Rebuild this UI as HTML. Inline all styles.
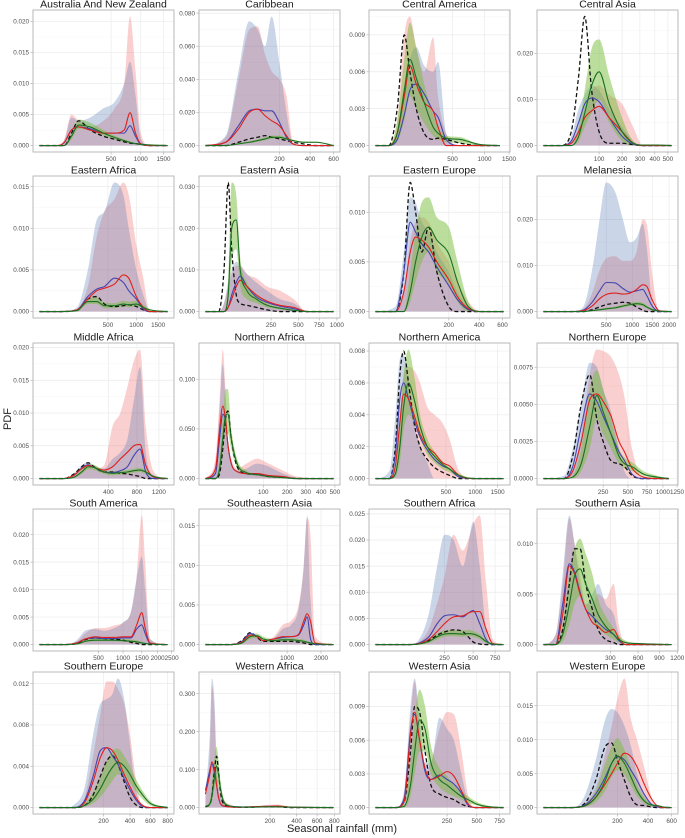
<!DOCTYPE html>
<html><head><meta charset="utf-8">
<style>
html,body{margin:0;padding:0;background:#fff;}
svg{display:block;font-family:"Liberation Sans",sans-serif;}
</style></head>
<body>
<svg id="chart" width="685" height="838" viewBox="0 0 685 838" xmlns="http://www.w3.org/2000/svg">
<text x="0" y="0" transform="translate(11,419) rotate(-90)" text-anchor="middle" font-size="11" fill="#222">PDF</text>
<text x="342" y="832" text-anchor="middle" font-size="11" fill="#222">Seasonal rainfall (mm)</text>
</svg>
<script>
const titles = ["Australia And New Zealand","Caribbean","Central America","Central Asia","Eastern Africa","Eastern Asia","Eastern Europe","Melanesia","Middle Africa","Northern Africa","Northern America","Northern Europe","South America","Southeastern Asia","Southern Africa","Southern Asia","Southern Europe","Western Africa","Western Asia","Western Europe"];
const xMax = [1600,600,1380,530,1750,950,610,2080,1380,490,1650,1150,2350,2460,860,1100,800,790,800,600];
const xTicks = [[500,1000,1500],[200,400,600],[500,1000,1500],[100,200,300,400,500],[500,1000,1500],[250,500,750,1000],[200,400,600],[500,1000,1500,2000],[400,800,1200],[100,200,300,400,500],[500,1000,1500],[250,500,750,1000,1250],[500,1000,1500,2000,2500],[1000,2000],[250,500,750],[300,600,900,1200],[200,400,600,800],[200,400,600,800],[250,500,750],[200,400,600]];
const yTicks = [[0,.005,.01,.015,.02],[0,.02,.04,.06,.08],[0,.003,.006,.009],[0,.01,.02],[0,.005,.01,.015],[0,.01,.02,.03],[0,.005,.01],[0,.01,.02],[0,.005,.01,.015,.02],[0,.05,.1],[0,.002,.004,.006,.008],[0,.0025,.005,.0075],[0,.005,.01,.015,.02],[0,.005,.01,.015],[0,.005,.01,.015,.02,.025],[0,.005,.01],[0,.004,.008,.012],[0,.1,.2,.3],[0,.003,.006,.009],[0,.005,.01,.015]];
const yTickLabels = [["0.000","0.005","0.010","0.015","0.020"],["0.000","0.020","0.040","0.060","0.080"],["0.000","0.003","0.006","0.009"],["0.000","0.010","0.020"],["0.000","0.005","0.010","0.015"],["0.000","0.010","0.020","0.030"],["0.000","0.005","0.010"],["0.000","0.010","0.020"],["0.000","0.005","0.010","0.015","0.020"],["0.000","0.050","0.100"],["0.000","0.002","0.004","0.006","0.008"],["0.0000","0.0025","0.0050","0.0075"],["0.000","0.005","0.010","0.015","0.020"],["0.000","0.005","0.010","0.015"],["0.000","0.005","0.010","0.015","0.020","0.025"],["0.000","0.005","0.010"],["0.000","0.004","0.008","0.012"],["0.000","0.100","0.200","0.300"],["0.000","0.003","0.006","0.009"],["0.000","0.005","0.010","0.015"]];
const xs = [
[0,30,60,100,150,250,400,550,700,800,900,1000,1200,1600],
[0,15,40,70,100,130,160,200,240,280,350,450,600],
[0,15,40,70,100,140,200,280,330,420,600,900,1300],
[0,10,25,40,55,75,100,140,200,260,320,420,530],
[0,50,150,250,350,450,600,750,850,1000,1150,1300,1750],
[0,10,20,30,40,55,70,100,150,220,320,450,600,950],
[0,15,30,45,60,80,105,140,200,250,320,420,610],
[0,100,200,300,400,500,650,800,950,1100,1250,1350,1500,1700,2080],
[0,50,100,150,200,250,350,450,550,650,750,850,950,1100,1380],
[0,3,6,9,12,15,20,30,50,80,120,180,250,490],
[0,20,40,60,80,110,150,200,270,350,450,550,700,1000,1650],
[0,30,60,100,150,200,250,320,400,460,550,700,900,1100],
[0,100,200,300,450,600,800,1000,1200,1350,1500,1600,1750,2350],
[0,100,200,300,400,500,700,900,1100,1300,1450,1550,1650,1800,2460],
[0,30,60,100,150,200,250,320,400,450,500,570,640,720,860],
[0,10,25,45,65,90,120,160,200,260,330,380,450,600,1100],
[0,30,60,100,140,180,220,260,300,350,400,450,520,600,800],
[0,1,2,4,6,8,11,15,25,50,100,180,250,350,790],
[0,20,40,60,75,95,120,150,200,250,300,360,420,500,600,800],
[0,30,60,100,140,170,200,240,280,320,370,420,470,520,600]];
const pinkBand = [
[0,0,.001,.005,.004,.003,.004,.006,.01,.0208,.012,.002,0,0],
[0,.005,.04,.07,.072,.055,.045,.04,.03,.002,0,0,0],
[0,0,.002,.009,.0105,.008,.006,.0088,.004,.001,0,0,0],
[0,0,.001,.004,.008,.012,.013,.011,.009,.004,0,0,0],
[0,0,.0003,.003,.009,.012,.0135,.0155,.014,.008,.004,0,0],
[0,0,.002,.006,.009,.011,.011,.009,.008,.006,.005,.003,0,0],
[0,0,.002,.007,.009,.0095,.009,.007,.005,.003,.001,0,0],
[0,0,.0005,.004,.009,.0115,.012,.011,.011,.013,.02,.019,.008,0,0],
[0,0,.0005,.0015,.002,.0015,.002,.008,.01,.014,.018,.0197,.008,.001,0],
[0,.02,.08,.13,.09,.04,.02,.01,.015,.02,.015,.008,.002,0],
[0,0,.001,.004,.0065,.007,.0068,.006,.0045,.004,.0035,.0025,.0005,0,0],
[0,0,.0005,.003,.007,.0087,.0086,.0082,.007,.0055,.002,0,0,0],
[0,0,.0005,.002,.003,.003,.0035,.004,.006,.012,.0235,.015,.001,0],
[0,0,.0003,.0013,.001,.0005,.001,.0025,.003,.005,.01,.016,.014,.001,0],
[0,0,0,.0005,.003,.008,.013,.021,.018,.02,.023,.0247,.012,.001,0],
[0,.001,.006,.0125,.01,.007,.004,.004,.005,.0045,.006,.002,0,0,0],
[0,0,0,.001,.005,.009,.0122,.0122,.0115,.01,.007,.003,0,0,0],
[.02,.15,.32,.25,.1,.06,.03,.02,.01,.003,.003,.007,.008,.002,0],
[0,0,.001,.008,.0112,.007,.003,.004,.007,.0085,.0083,.005,.001,0,0,0],
[0,0,.0005,.003,.008,.012,.016,.019,.013,.01,.006,.002,0,0,0]];
const blueBand = [
[0,0,.0008,.0045,.004,.0045,.006,.007,.01,.0135,.008,.001,0,0],
[0,.006,.045,.075,.07,.06,.078,.05,.02,.001,0,0,0],
[0,0,.001,.004,.007,.008,.0065,.006,.0068,.001,0,0,0],
[0,0,.002,.008,.011,.013,.012,.008,.004,.001,0,0,0],
[0,0,.0005,.005,.011,.012,.0155,.014,.01,.005,.002,0,0],
[0,0,.002,.007,.01,.012,.011,.009,.007,.005,.003,.002,0,0],
[0,.0005,.006,.0115,.011,.009,.008,.006,.004,.002,.0005,0,0],
[0,0,.001,.009,.02,.028,.026,.02,.015,.016,.019,.014,.002,0,0],
[0,0,.0008,.002,.0025,.002,.0015,.003,.004,.006,.012,.017,.004,.0005,0],
[0,.01,.07,.115,.08,.04,.015,.008,.01,.015,.012,.005,.001,0],
[0,.0005,.004,.0075,.0078,.006,.0035,.002,.001,0,0,0,0,0,0],
[0,.0002,.002,.005,.0078,.0075,.006,.0045,.002,.0005,0,0,0,0],
[0,0,.0008,.0025,.0028,.0025,.003,.004,.006,.012,.016,.01,.001,0],
[0,0,.0004,.0015,.0012,.0005,.0008,.002,.0025,.0045,.01,.0163,.006,0,0],
[0,0,0,.001,.006,.015,.021,.02,.015,.019,.0235,.015,.003,0,0],
[0,.001,.007,.0128,.01,.006,.004,.005,.006,.004,.003,.001,0,0,0],
[0,0,.0003,.002,.007,.01,.0105,.011,.0125,.0105,.006,.002,0,0,0],
[.03,.2,.34,.28,.12,.06,.03,.015,.008,.003,.002,.005,.006,.001,0],
[0,0,.0015,.009,.0115,.008,.004,.004,.008,.007,.006,.003,.0005,0,0,0],
[0,0,.0015,.007,.013,.0145,.014,.012,.009,.005,.002,.0005,0,0,0]];
const redLine = [
[0,0,.0005,.0025,.003,.0025,.002,.002,.0025,.0053,.002,.0003,0,0],
[0,.002,.01,.02,.022,.018,.015,.012,.006,.001,0,0,0],
[0,0,.001,.004,.0065,.005,.0035,.0028,.0015,0,0,0,0],
[0,0,.0005,.003,.006,.0075,.0085,.006,.003,.0005,0,0,0],
[0,0,.0002,.0015,.0025,.0028,.0033,.0044,.004,.0018,.0005,0,0],
[0,0,0,.001,.003,.006,.0075,.006,.004,.0025,.0015,.001,0,0],
[0,0,.002,.006,.0075,.0072,.0065,.005,.0032,.0015,.0003,0,0],
[0,0,.0002,.0012,.0028,.0037,.004,.0038,.004,.0048,.0058,.0055,.0025,.0002,0],
[0,0,.0005,.0015,.002,.0017,.0013,.0018,.003,.004,.005,.0052,.002,.0002,0],
[0,.01,.05,.073,.06,.035,.015,.007,.005,.005,.003,.002,0,0],
[0,0,.0008,.0035,.0053,.005,.004,.0028,.002,.0016,.001,.0008,.0002,0,0],
[0,0,.0005,.0025,.0053,.0057,.0052,.0042,.0025,.0018,.0007,.0001,0,0],
[0,0,.0003,.001,.0014,.0013,.0013,.0014,.0014,.0035,.0058,.003,.0003,0],
[0,0,.0003,.0012,.001,.0005,.0007,.001,.001,.0013,.003,.0039,.003,.0002,0],
[0,0,0,.0002,.001,.0025,.004,.0053,.0055,.006,.0063,.0063,.003,.0002,0],
[0,0,.003,.0078,.007,.005,.0035,.0022,.0018,.0012,.0015,.0006,0,0,0],
[0,0,0,.0005,.0025,.0048,.0058,.0055,.0046,.0032,.002,.001,.0002,0,0],
[.035,.09,.12,.1,.06,.03,.01,.005,.002,.001,.002,.003,.004,.001,0],
[0,0,.0005,.0065,.0085,.006,.0035,.0025,.0028,.0032,.0028,.0015,.0003,0,0,0],
[0,0,.0002,.0015,.0035,.005,.0065,.008,.0075,.006,.0035,.0015,.0003,0,0]];
const blueLine = [
[0,0,.0005,.0025,.003,.0027,.002,.002,.002,.0032,.0015,.0002,0,0],
[0,.002,.012,.021,.022,.021,.021,.014,.005,.001,0,0,0],
[0,0,.0005,.0025,.0045,.005,.0042,.0028,.0023,.0005,0,0,0],
[0,0,.001,.005,.009,.0103,.0095,.006,.002,.0003,0,0,0],
[0,0,.0002,.0018,.0027,.003,.004,.0035,.0025,.0015,.0003,0,0],
[0,0,0,.001,.004,.007,.0085,.006,.0035,.0022,.0013,.0007,0,0],
[0,0,.004,.009,.008,.0068,.006,.0045,.0026,.0012,.0002,0,0],
[0,0,.0003,.002,.0045,.0063,.0062,.005,.0042,.0045,.0048,.0035,.0012,0,0],
[0,0,.0005,.0016,.0021,.0017,.001,.0009,.0012,.0018,.0035,.0045,.001,0,0],
[0,.005,.04,.065,.058,.035,.015,.007,.005,.004,.003,.001,0,0],
[0,0,.0015,.005,.006,.005,.0037,.0026,.0018,.0012,.0008,.0006,.0001,0,0],
[0,0,.0008,.0035,.0057,.0052,.0042,.003,.0018,.0012,.0003,0,0,0],
[0,0,.0003,.001,.0012,.0011,.0011,.0012,.0012,.0028,.0036,.002,.0002,0],
[0,0,.0004,.0014,.001,.0005,.0007,.0009,.001,.0012,.0025,.0035,.0008,0,0],
[0,0,0,.0003,.0015,.004,.0055,.0057,.0053,.006,.0065,.004,.001,0,0],
[0,0,.004,.008,.0072,.0052,.0035,.0028,.0022,.0015,.001,.0004,0,0,0],
[0,0,0,.0007,.003,.0055,.0058,.005,.0042,.0028,.0017,.0008,.0001,0,0],
[.045,.1,.115,.09,.06,.03,.01,.004,.002,.001,.002,.003,.003,.001,0],
[0,0,.0008,.0068,.0083,.006,.0032,.0025,.0029,.0025,.0021,.0013,.0002,0,0,0],
[0,0,.0003,.002,.0045,.0065,.0075,.007,.0055,.004,.002,.0006,.0001,0,0]];
const greenLine = [
[0,0,0,.0015,.0033,.003,.002,.0013,.0008,.0005,.0003,.0002,.0001,0],
[0,0,.001,.002,.003,.004,.005,.005,.004,.003,.002,.002,0],
[0,0,.001,.0045,.007,.0055,.0035,.0015,.001,.0006,.0005,.0001,0],
[0,0,0,.002,.007,.013,.016,.009,.003,.0005,.0001,.0001,0],
[0,0,.0001,.0012,.0012,.0007,.0007,.0009,.0008,.0009,.0005,.0002,0],
[0,0,0,.004,.02,.022,.01,.005,.003,.0015,.0008,.0003,0,0],
[0,0,0,.002,.005,.0075,.0085,.0072,.0058,.003,.0005,0,0],
[0,0,0,.0002,.0004,.0006,.0008,.0012,.0015,.0017,.0015,.001,.0004,.0001,0],
[0,0,.0002,.001,.0018,.0017,.001,.0008,.0009,.001,.0012,.0013,.001,.0003,0],
[0,0,.01,.04,.063,.065,.04,.015,.006,.004,.002,.001,0,0],
[0,0,.0003,.002,.0045,.006,.005,.0033,.002,.0014,.0009,.0006,.0002,0,0],
[0,0,.0001,.001,.0035,.0056,.0045,.003,.0015,.001,.0008,.0003,.0001,0],
[0,0,.0001,.0006,.0008,.0008,.0008,.0007,.0006,.0005,.0003,.0002,.0001,0],
[0,0,.0002,.001,.0011,.0007,.0005,.0006,.0006,.0005,.0004,.0003,.0002,.0001,0],
[0,0,0,.0001,.0006,.0015,.002,.0021,.002,.0021,.002,.0015,.0006,.0001,0],
[0,0,.001,.004,.0068,.0075,.006,.0045,.003,.0018,.001,.0005,.0002,.0001,0],
[0,0,0,.0002,.0008,.0018,.003,.0039,.0044,.004,.0032,.0022,.0012,.0004,0],
[.003,.01,.03,.08,.11,.09,.05,.02,.005,.002,.001,.002,.002,.001,0],
[0,0,.0001,.002,.005,.0078,.007,.004,.0025,.002,.0015,.001,.0007,.0003,.0001,0],
[0,0,.0002,.0015,.004,.0065,.0076,.0065,.0045,.0025,.001,.0004,.0003,.0001,0]];
const greenHi = [
[0,0,0,.002,.0042,.0037,.0025,.0016,.001,.0007,.0004,.0003,.0001,0],
[0,0,.0015,.0026,.0038,.005,.006,.006,.005,.0036,.0025,.0024,0],
[0,0,.002,.007,.01,.008,.005,.0025,.0015,.0008,.0007,.0001,0],
[0,0,0,.004,.012,.021,.023,.015,.006,.001,.0002,.0002,0],
[0,0,.0002,.0016,.0017,.0011,.001,.0013,.0012,.0013,.0008,.0003,0],
[0,0,0,.008,.031,.028,.013,.007,.004,.002,.001,.0005,0,0],
[0,0,0,.004,.008,.011,.0115,.0095,.0085,.005,.001,0,0],
[0,0,0,.0003,.0006,.0008,.0011,.0015,.0019,.0021,.0019,.0013,.0006,.0001,0],
[0,0,.0003,.0013,.0022,.0021,.0013,.0011,.0012,.0013,.0015,.0016,.0013,.0004,0],
[0,0,.02,.06,.09,.09,.05,.02,.008,.005,.003,.001,0,0],
[0,0,.0005,.0035,.0065,.0081,.0065,.004,.0025,.0017,.0011,.0007,.0003,0,0],
[0,0,.0002,.002,.006,.0073,.006,.004,.002,.0014,.0011,.0005,.0002,0],
[0,0,.0002,.0009,.0011,.0011,.0011,.001,.0009,.0008,.0005,.0003,.0001,0],
[0,0,.0003,.0013,.0014,.001,.0007,.0008,.0008,.0007,.0006,.0004,.0003,.0001,0],
[0,0,0,.0002,.001,.0021,.0027,.0028,.0027,.0028,.0026,.002,.0009,.0002,0],
[0,0,.002,.007,.0095,.0105,.009,.007,.0045,.0028,.0016,.0009,.0004,.0001,0],
[0,0,0,.0004,.0015,.003,.0045,.0055,.0057,.005,.004,.0028,.0016,.0006,0],
[.005,.02,.06,.13,.16,.13,.07,.03,.008,.003,.002,.003,.003,.001,0],
[0,0,.0002,.004,.008,.0105,.009,.0055,.0035,.0028,.002,.0014,.001,.0005,.0002,0],
[0,0,.0003,.0025,.0065,.009,.0102,.0085,.0058,.0033,.0015,.0006,.0004,.0001,0]];
const greenLo = [
[0,0,0,.001,.0027,.0024,.0016,.001,.0006,.0003,.0002,.0001,0,0],
[0,0,.0006,.0015,.0023,.0032,.0041,.0041,.0032,.0024,.0015,.0015,0],
[0,0,.0003,.002,.004,.003,.0018,.0008,.0005,.0003,.0002,0,0],
[0,0,0,.001,.004,.007,.01,.005,.001,0,0,0,0],
[0,0,0,.0009,.0009,.0004,.0004,.0006,.0005,.0006,.0003,.0001,0],
[0,0,0,.002,.012,.015,.006,.003,.002,.001,.0005,.0002,0,0],
[0,0,0,.001,.003,.005,.006,.004,.0028,.001,0,0,0],
[0,0,0,.0001,.0002,.0004,.0006,.0009,.0012,.0013,.0011,.0007,.0002,0,0],
[0,0,.0001,.0007,.0014,.0013,.0007,.0005,.0006,.0007,.0009,.001,.0007,.0002,0],
[0,0,.005,.025,.045,.045,.03,.01,.004,.003,.001,0,0,0],
[0,0,.0001,.001,.003,.004,.0035,.0025,.0015,.001,.0006,.0004,.0001,0,0],
[0,0,0,.0005,.002,.004,.003,.002,.001,.0007,.0005,.0002,0,0],
[0,0,0,.0004,.0006,.0006,.0006,.0005,.0004,.0003,.0002,.0001,0,0],
[0,0,.0001,.0007,.0008,.0005,.0003,.0004,.0004,.0003,.0002,.0002,.0001,0,0],
[0,0,0,0,.0003,.001,.0015,.0016,.0015,.0016,.0015,.001,.0003,0,0],
[0,0,.0003,.002,.004,.0048,.0038,.0025,.0016,.001,.0005,.0002,.0001,0,0],
[0,0,0,.0001,.0004,.001,.0018,.0026,.0032,.003,.0024,.0016,.0008,.0002,0],
[0,.005,.015,.05,.07,.06,.03,.01,.003,.001,.001,.001,.001,0,0],
[0,0,0,.001,.003,.005,.005,.003,.0018,.0013,.001,.0007,.0004,.0002,0,0],
[0,0,.0001,.0008,.0025,.0045,.0055,.0048,.0032,.0017,.0006,.0002,.0001,0,0]];
const blackLine = [
[0,0,0,.002,.004,.0025,.0015,.001,.0006,.0004,.0003,.0002,0,0],
[0,0,.002,.004,.005,.006,.005,.004,.003,.002,.001,0,0],
[0,0,.003,.009,.006,.003,.001,.0005,.0006,.0005,.0002,0,0],
[0,0,.003,.015,.028,.012,.003,.0005,.0005,.0002,0,0,0],
[0,0,.0002,.0015,.0018,.0009,.0006,.0007,.0008,.0006,.0002,0,0],
[0,0,.01,.031,.015,.004,.002,.0015,.001,.0004,0,0,0,0],
[0,0,.004,.013,.01,.006,.0085,.004,.0005,0,0,0,0],
[0,0,0,.0004,.001,.0015,.0018,.002,.0018,.001,.0003,0,0,0,0],
[0,0,.0007,.0018,.0024,.0018,.001,.001,.0008,.0007,.0005,.0003,0,0,0],
[0,0,.005,.03,.06,.068,.04,.012,.005,.004,.002,.001,0,0],
[0,0,.002,.0065,.008,.006,.0035,.002,.0012,.0007,.0004,.0002,0,0,0],
[0,0,.0015,.005,.007,.004,.0025,.0012,.001,.0008,.0002,0,0,0],
[0,0,.0002,.0009,.0012,.0011,.001,.0008,.0004,.0002,0,0,0,0],
[0,0,.0005,.0015,.0009,.0004,.0004,.0004,.0004,.0003,.0002,.0001,0,0,0],
[0,0,0,.0002,.0008,.0018,.0024,.0028,.0025,.0015,.0005,.0001,0,0,0],
[0,0,.0015,.006,.0095,.0095,.006,.0035,.0015,.0005,.0002,0,0,0,0],
[0,0,0,.0002,.0012,.003,.0045,.005,.0042,.0025,.001,.0003,0,0,0],
[.002,.01,.03,.1,.135,.1,.04,.012,.004,.001,.001,.002,.002,0,0],
[0,0,.0005,.005,.009,.0085,.005,.002,.0012,.0009,.0007,.0003,.0001,0,0,0],
[0,0,.0005,.004,.009,.0095,.007,.004,.0015,.0004,.0003,.0001,0,0,0]];

const NS = "http://www.w3.org/2000/svg";
const svg = document.getElementById("chart");
const colLeft = [33,199,369,537], rowTop = [10,176,343,509,672];
const PW = 141, PH = 142;

function mk(tag, attrs, parent){
  const e = document.createElementNS(NS, tag);
  for (const k in attrs) e.setAttribute(k, attrs[k]);
  parent.appendChild(e);
  return e;
}
function monoPath(pts){
  const n = pts.length;
  if (n < 2) return "";
  const dx=[], m=[], t=[];
  for (let i=0;i<n-1;i++){ dx[i]=pts[i+1][0]-pts[i][0]; m[i]=dx[i]===0?0:(pts[i+1][1]-pts[i][1])/dx[i]; }
  t[0]=m[0]; t[n-1]=m[n-2];
  for (let i=1;i<n-1;i++){ t[i]=(m[i-1]*m[i]<=0)?0:(m[i-1]+m[i])/2; }
  for (let i=0;i<n-1;i++){
    if (m[i]===0){t[i]=0;t[i+1]=0;continue;}
    const a=t[i]/m[i], b=t[i+1]/m[i], s=a*a+b*b;
    if (s>9){const tau=3/Math.sqrt(s); t[i]=tau*a*m[i]; t[i+1]=tau*b*m[i];}
  }
  let d="M"+pts[0][0].toFixed(2)+","+pts[0][1].toFixed(2);
  for (let i=0;i<n-1;i++){
    const h=dx[i]/3;
    d+="C"+(pts[i][0]+h).toFixed(2)+","+(pts[i][1]+t[i]*h).toFixed(2)+" "+(pts[i+1][0]-h).toFixed(2)+","+(pts[i+1][1]-t[i+1]*h).toFixed(2)+" "+pts[i+1][0].toFixed(2)+","+pts[i+1][1].toFixed(2);
  }
  return d;
}

for (let p=0;p<titles.length;p++){
  const L = colLeft[p%4], T = rowTop[Math.floor(p/4)];
  const S = Math.sqrt(xMax[p]);
  const s0 = -0.05*S, s1 = 1.05*S;
  const all = [].concat(pinkBand[p],blueBand[p],redLine[p],blueLine[p],greenLine[p],greenHi[p],blackLine[p]);
  const ymax = Math.max.apply(null, all);
  const y0 = -0.05*ymax, y1 = 1.05*ymax;
  const X = v => L + (Math.sqrt(v)-s0)/(s1-s0)*PW;
  const Y = v => T + PH - (v-y0)/(y1-y0)*PH;

  const g = mk("g", {}, svg);
  
  
  const clipId = "clip"+p;
  const cp = mk("clipPath", {id:clipId}, g);
  mk("rect", {x:L, y:T, width:PW, height:PH}, cp);

  const yt = yTicks[p];
  for (let i=0;i<yt.length;i++){
    const yy = Y(yt[i]);
    mk("line",{x1:L,x2:L+PW,y1:yy,y2:yy,stroke:"#ebebeb","stroke-width":0.7},g);
    if (i<yt.length-1){ const ym=Y((yt[i]+yt[i+1])/2); mk("line",{x1:L,x2:L+PW,y1:ym,y2:ym,stroke:"#f5f5f5","stroke-width":0.5},g); }
  }
  if (Y(yt[yt.length-1]+ (yt[1]-yt[0])/2) > T){ const ym=Y(yt[yt.length-1]+(yt[1]-yt[0])/2); mk("line",{x1:L,x2:L+PW,y1:ym,y2:ym,stroke:"#f5f5f5","stroke-width":0.5},g); }
  const xt = xTicks[p];
  for (let i=0;i<xt.length;i++){
    const xx = X(xt[i]);
    if (xx > L+PW+2) continue;
    mk("line",{x1:xx,x2:xx,y1:T,y2:T+PH,stroke:"#ebebeb","stroke-width":0.7},g);
  }

  const pts = arr => xs[p].map((v,i)=>[X(v),Y(arr[i])]);
  const area = (hi, lo, fill, name) => {
    const up = pts(hi);
    const dn = lo ? pts(lo).reverse() : [[X(xs[p][xs[p].length-1]),Y(0)],[X(xs[p][0]),Y(0)]];
    let d = monoPath(up);
    if (lo){ d += "L" + monoPath(dn).slice(1); } else { d += "L"+dn[0][0]+","+dn[0][1]+"L"+dn[1][0]+","+dn[1][1]; }
    d += "Z";
    const e = mk("path",{d:d,fill:fill,"clip-path":"url(#"+clipId+")"},g);
    
    
  };
  area(pinkBand[p], null, "rgba(238,95,95,0.3)", "red-band");
  area(blueBand[p], null, "rgba(80,115,180,0.3)", "blue-band");
  area(greenHi[p], greenLo[p], "rgba(120,190,60,0.5)", "green-band");

  const line = (arr, color, dash, w, name) => {
    const e = mk("path",{d:monoPath(pts(arr)),fill:"none",stroke:color,"stroke-width":w,"clip-path":"url(#"+clipId+")"},g);
    if (dash) e.setAttribute("stroke-dasharray", dash);
    
    
  };
  line(blackLine[p], "#111", "4,2.5", 1.3, "observed-dashed-line");
  line(blueLine[p], "#4444b0", null, 1.1, "blue-line");
  line(redLine[p], "#e0201c", null, 1.1, "red-line");
  line(greenLine[p], "#1a6e24", null, 1.1, "green-line");

  mk("rect",{x:L,y:T,width:PW,height:PH,fill:"none",stroke:"#b3b3b3","stroke-width":0.9},g);

  for (let i=0;i<yt.length;i++){
    const yy = Y(yt[i]);
    mk("line",{x1:L-2.5,x2:L,y1:yy,y2:yy,stroke:"#b3b3b3","stroke-width":0.7},g);
    const t = mk("text",{x:L-4,y:yy+2.2,"text-anchor":"end","font-size":6.3,fill:"#4d4d4d"},g);
    t.textContent = yTickLabels[p][i];
    
    
  }
  for (let i=0;i<xt.length;i++){
    const xx = X(xt[i]);
    if (xx > L+PW+2) continue;
    mk("line",{x1:xx,x2:xx,y1:T+PH,y2:T+PH+2.5,stroke:"#b3b3b3","stroke-width":0.7},g);
    const t = mk("text",{x:xx,y:T+PH+9,"text-anchor":"middle","font-size":6.3,fill:"#4d4d4d"},g);
    t.textContent = String(xt[i]);
    
    
  }
  const tt = mk("text",{x:L+PW/2,y:T-2.5,"text-anchor":"middle","font-size":10.5,fill:"#1a1a1a"},g);
  tt.textContent = titles[p];
  
  
}
</script>
</body></html>
